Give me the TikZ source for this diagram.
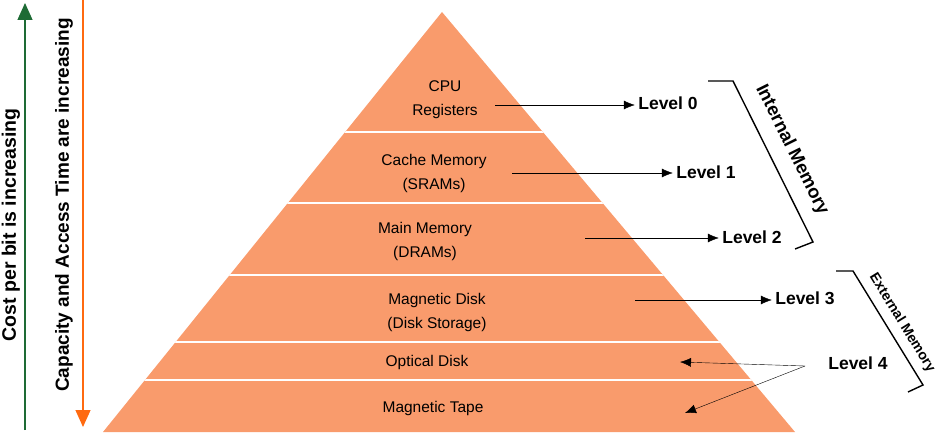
\documentclass[tikz,border=0pt]{standalone}
\usepackage{fontspec}
\setmainfont{Liberation Sans}
\usetikzlibrary{arrows.meta}
\definecolor{pyr}{HTML}{F99B6C}
\definecolor{gr}{HTML}{1E6B35}
\definecolor{org}{HTML}{FF6A10}
\begin{document}
\begin{tikzpicture}[x=1pt,y=-1pt,
  lbl/.style={font=\fontsize{15.5}{24}\selectfont, align=center},
  lvl/.style={font=\bfseries\fontsize{17.5}{20}\selectfont},
  arr/.style={-{Latex[length=11pt,width=9pt]}, thin}]
\useasboundingbox (0,0) rectangle (940,438);
\fill[pyr] (442,12) -- (795,432) -- (103,432) -- cycle;
\begin{scope}
\clip (442,12) -- (795,432) -- (103,432) -- cycle;
\foreach \y in {132,203,275,342,380} \draw[white, line width=1.2pt] (90,\y) -- (800,\y);
\end{scope}
\node[lbl] (l0) at (445,100) {CPU\\Registers};
\node[lbl] (l1) at (434,173) {Cache Memory\\(SRAMs)};
\node[lbl] (l2) at (425,241) {Main Memory\\(DRAMs)};
\node[lbl] (l3) at (437,312) {Magnetic Disk\\(Disk Storage)};
\node[lbl] (l4a) at (427,362) {Optical Disk};
\node[lbl] (l4b) at (433,408) {Magnetic Tape};
\node[lvl] (v0) at (668,103) {Level 0};
\node[lvl] (v1) at (706,172) {Level 1};
\node[lvl] (v2) at (752,237) {Level 2};
\node[lvl] (v3) at (805,298) {Level 3};
\node[lvl] (v4) at (858,363) {Level 4};
\coordinate (s0) at (495,105); \coordinate (s1) at (512,173);
\coordinate (s2) at (585,238); \coordinate (s3) at (635,300);
\coordinate (j4) at (805,366);
\draw[arr] (s0) -- (v0.west|-s0);
\draw[arr] (s1) -- (v1.west|-s1);
\draw[arr] (s2) -- (v2.west|-s2);
\draw[arr] (s3) -- (v3.west|-s3);
\draw[arr] (j4) -- (680,362);
\draw[arr] (j4) -- (685,413);
\draw[line width=1.4pt] (708,81) -- (733,81) -- (813,242) -- (795,249);
\node[font=\bfseries\fontsize{18.5}{20}\selectfont, rotate=-63.6] (im) at (792,150) {Internal Memory};
\draw[line width=1.4pt] (836,271) -- (853,271) -- (923,385) -- (908,392);
\node[font=\bfseries\fontsize{14}{16}\selectfont, rotate=-58.4] (em) at (902,323) {External Memory};
\coordinate (g0) at (25,430); \coordinate (g1) at (25,3);
\draw[gr, line width=1.3pt, -{Triangle[length=17pt,width=15pt]}] (g0) -- (g1);
\node[font=\bfseries\fontsize{19.5}{22}\selectfont, rotate=90] (ct) at (11,225) {Cost per bit is increasing};
\coordinate (o0) at (83,0); \coordinate (o1) at (83,427);
\draw[org, line width=1.3pt, -{Triangle[length=17pt,width=15pt]}] (o0) -- (o1);
\node[font=\bfseries\fontsize{19}{22}\selectfont, rotate=90] (ca) at (64,205) {Capacity and Access Time are increasing};
\end{tikzpicture}
\end{document}
